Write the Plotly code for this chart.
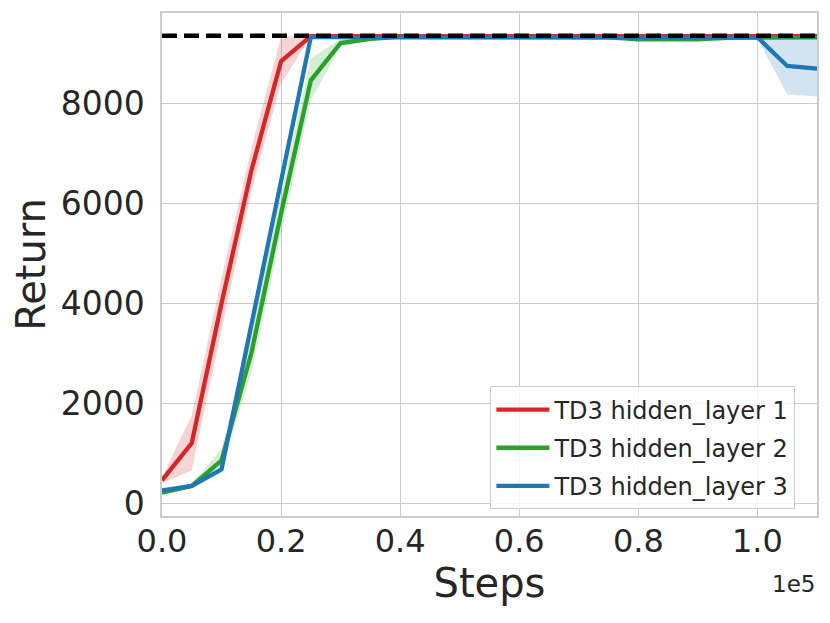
import plotly.graph_objects as go

# steps (every 5k) and mean / band values
steps = [i * 5000 for i in range(23)]

red_mean = [460, 1206, 4000, 6650, 8840, 9345, 9345, 9345, 9345, 9345, 9345, 9345,
            9345, 9345, 9345, 9345, 9345, 9345, 9345, 9345, 9345, 9345, 9345]
red_lo = [400, 660, 3450, 6250, 8394, 9330, 9330, 9330, 9330, 9330, 9330, 9330,
          9330, 9330, 9330, 9330, 9330, 9330, 9330, 9330, 9330, 9330, 9330]
red_hi = [520, 1760, 4500, 7100, 9326, 9355, 9355, 9355, 9355, 9355, 9355, 9355,
          9355, 9355, 9355, 9355, 9355, 9355, 9355, 9355, 9355, 9355, 9355]

green_mean = [213, 347, 860, 3000, 5800, 8460, 9206, 9290, 9330, 9330, 9330, 9330,
              9330, 9330, 9330, 9320, 9280, 9280, 9280, 9310, 9320, 9320, 9320]
green_lo = [180, 320, 700, 2600, 5400, 8060, 9140, 9250, 9310, 9310, 9310, 9310,
            9310, 9310, 9310, 9300, 9260, 9260, 9260, 9290, 9300, 9300, 9300]
green_hi = [250, 380, 1090, 3400, 6200, 8900, 9280, 9320, 9345, 9345, 9345, 9345,
            9345, 9345, 9345, 9340, 9300, 9300, 9300, 9330, 9340, 9340, 9340]

blue_mean = [260, 346, 680, 3580, 6500, 9330, 9325, 9322, 9320, 9320, 9320, 9320,
             9320, 9320, 9320, 9320, 9320, 9320, 9320, 9320, 9320, 8746, 8694]
blue_lo = [230, 320, 640, 3450, 6380, 9310, 9305, 9305, 9305, 9305, 9305, 9305,
           9305, 9305, 9305, 9305, 9305, 9305, 9305, 9305, 9300, 8174, 8134]
blue_hi = [290, 370, 720, 3700, 6620, 9345, 9340, 9340, 9340, 9340, 9340, 9340,
           9340, 9340, 9340, 9340, 9340, 9340, 9340, 9340, 9340, 9340, 9340]

target_return = 9350
x_ticks = [0, 20000, 40000, 60000, 80000, 100000]
x_labels = ["0.0", "0.2", "0.4", "0.6", "0.8", "1.0"]
y_ticks = [0, 2000, 4000, 6000, 8000]

series = [
    ("TD3 hidden_layer 1", red_mean, red_lo, red_hi, "#d62728", "rgba(214,39,40,0.2)"),
    ("TD3 hidden_layer 2", green_mean, green_lo, green_hi, "#2ca02c", "rgba(44,160,44,0.2)"),
    ("TD3 hidden_layer 3", blue_mean, blue_lo, blue_hi, "#1f77b4", "rgba(31,119,180,0.2)"),
]

FONT = "DejaVu Sans"
GRID = "#cccccc"
TEXT = "#262626"

fig = go.Figure()

for i, (name, mean, lo, hi, col, fill) in enumerate(series):
    fig.add_trace(go.Scatter(
        x=steps + steps[::-1], y=hi + lo[::-1],
        fill="toself", fillcolor=fill, line=dict(width=0),
        mode="lines", hoverinfo="skip", showlegend=False,
    ))
    fig.add_trace(go.Scatter(
        x=steps, y=mean, mode="lines", name=name,
        line=dict(color=col, width=4.3),
        legendgroup=f"g{i}",
    ))

fig.add_trace(go.Scatter(
    x=[0, 110000], y=[target_return, target_return], mode="lines",
    line=dict(color="black", width=4.5, dash="15px,7px"),
    showlegend=False, hoverinfo="skip",
))

# page body adds an 8px offset, so the figure is sized to end at the window edge
fig.update_layout(
    width=822, height=615,
    margin=dict(l=153.5, r=12.7, t=4.7, b=107.3, autoexpand=False),
    plot_bgcolor="white", paper_bgcolor="white",
    font=dict(family=FONT, color=TEXT),
    showlegend=True,
    legend=dict(
        x=0.967, y=0.013, xanchor="right", yanchor="bottom",
        bgcolor="rgba(255,255,255,0.8)", bordercolor=GRID, borderwidth=1,
        font=dict(size=24, family=FONT, color=TEXT),
        traceorder="grouped", tracegroupgap=4, itemwidth=53,
    ),
)

fig.update_xaxes(
    range=[0, 110000], tickvals=x_ticks, ticktext=x_labels,
    showgrid=True, gridcolor=GRID, gridwidth=1.3,
    showline=True, linecolor=GRID, linewidth=1.5, mirror=True,
    zeroline=False, ticks="", ticklabelstandoff=-4,
    tickfont=dict(size=32, family=FONT, color=TEXT),
    title=dict(text="Steps", font=dict(size=40, family=FONT, color=TEXT), standoff=0),
)
fig.update_yaxes(
    range=[-254, 9806], tickvals=y_ticks,
    showgrid=True, gridcolor=GRID, gridwidth=1.3,
    showline=True, linecolor=GRID, linewidth=1.5, mirror=True,
    zeroline=False, ticks="", ticklabelstandoff=9,
    tickfont=dict(size=33, family=FONT, color=TEXT),
    title=dict(text="Return", font=dict(size=40, family=FONT, color=TEXT), standoff=8),
)

# matplotlib-style offset label
fig.add_annotation(
    text="1e5", xref="paper", yref="paper", x=1.0, y=-0.105,
    xanchor="right", yanchor="top", showarrow=False,
    font=dict(size=23, family=FONT, color=TEXT),
)

fig.write_html("out.html")
